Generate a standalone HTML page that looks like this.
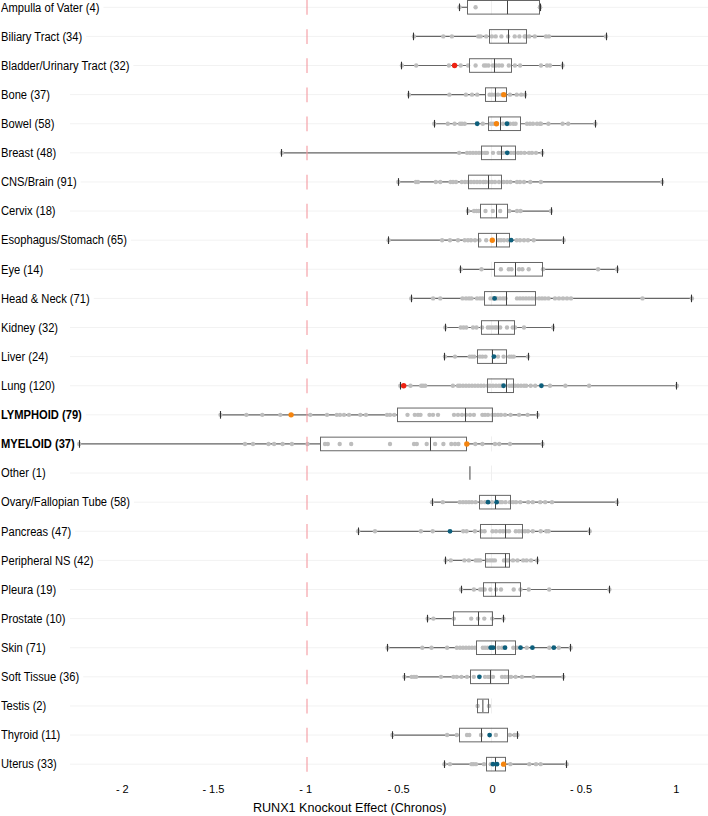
<!DOCTYPE html>
<html><head><meta charset="utf-8">
<style>
html,body{margin:0;padding:0;background:#fff;}
body{width:708px;height:816px;position:relative;overflow:hidden;font-family:"Liberation Sans",sans-serif;color:#000;}
svg{position:absolute;left:0;top:0;}
.lbl{position:absolute;left:1px;font-size:12px;line-height:15px;white-space:nowrap;transform:scaleX(0.93);transform-origin:0 0;}
.lbl.b{font-weight:bold;}
.tick{position:absolute;top:782px;width:80px;text-align:center;font-size:11px;line-height:15px;}
.title{position:absolute;top:800px;left:0;width:708px;text-align:center;font-size:12.6px;line-height:16px;}
</style></head><body>
<svg width="708" height="816" viewBox="0 0 708 816">
<line x1="103.4" y1="7.30" x2="708" y2="7.30" stroke="#f2f2f2" stroke-width="1"/>
<line x1="86.2" y1="36.41" x2="708" y2="36.41" stroke="#f2f2f2" stroke-width="1"/>
<line x1="133.4" y1="65.52" x2="708" y2="65.52" stroke="#f2f2f2" stroke-width="1"/>
<line x1="70.0" y1="94.63" x2="708" y2="94.63" stroke="#f2f2f2" stroke-width="1"/>
<line x1="70.0" y1="123.74" x2="708" y2="123.74" stroke="#f2f2f2" stroke-width="1"/>
<line x1="70.0" y1="152.85" x2="708" y2="152.85" stroke="#f2f2f2" stroke-width="1"/>
<line x1="80.7" y1="181.96" x2="708" y2="181.96" stroke="#f2f2f2" stroke-width="1"/>
<line x1="70.0" y1="211.07" x2="708" y2="211.07" stroke="#f2f2f2" stroke-width="1"/>
<line x1="130.9" y1="240.18" x2="708" y2="240.18" stroke="#f2f2f2" stroke-width="1"/>
<line x1="70.0" y1="269.29" x2="708" y2="269.29" stroke="#f2f2f2" stroke-width="1"/>
<line x1="93.7" y1="298.40" x2="708" y2="298.40" stroke="#f2f2f2" stroke-width="1"/>
<line x1="70.0" y1="327.51" x2="708" y2="327.51" stroke="#f2f2f2" stroke-width="1"/>
<line x1="70.0" y1="356.62" x2="708" y2="356.62" stroke="#f2f2f2" stroke-width="1"/>
<line x1="70.0" y1="385.73" x2="708" y2="385.73" stroke="#f2f2f2" stroke-width="1"/>
<line x1="85.8" y1="414.84" x2="708" y2="414.84" stroke="#f2f2f2" stroke-width="1"/>
<line x1="78.8" y1="443.95" x2="708" y2="443.95" stroke="#f2f2f2" stroke-width="1"/>
<line x1="70.0" y1="473.06" x2="708" y2="473.06" stroke="#f2f2f2" stroke-width="1"/>
<line x1="134.0" y1="502.17" x2="708" y2="502.17" stroke="#f2f2f2" stroke-width="1"/>
<line x1="75.1" y1="531.28" x2="708" y2="531.28" stroke="#f2f2f2" stroke-width="1"/>
<line x1="97.4" y1="560.39" x2="708" y2="560.39" stroke="#f2f2f2" stroke-width="1"/>
<line x1="70.0" y1="589.50" x2="708" y2="589.50" stroke="#f2f2f2" stroke-width="1"/>
<line x1="70.0" y1="618.61" x2="708" y2="618.61" stroke="#f2f2f2" stroke-width="1"/>
<line x1="70.0" y1="647.72" x2="708" y2="647.72" stroke="#f2f2f2" stroke-width="1"/>
<line x1="83.2" y1="676.83" x2="708" y2="676.83" stroke="#f2f2f2" stroke-width="1"/>
<line x1="70.0" y1="705.94" x2="708" y2="705.94" stroke="#f2f2f2" stroke-width="1"/>
<line x1="70.0" y1="735.05" x2="708" y2="735.05" stroke="#f2f2f2" stroke-width="1"/>
<line x1="70.0" y1="764.16" x2="708" y2="764.16" stroke="#f2f2f2" stroke-width="1"/>
<rect x="467.7" y="0.50" width="71.80" height="13.60" fill="#fff" stroke="none"/>
<line x1="491.5" y1="-0.20" x2="491.5" y2="14.80" stroke="#efefef" stroke-width="1"/>
<line x1="459.5" y1="7.30" x2="467.7" y2="7.30" stroke="#666" stroke-width="1.2"/>
<line x1="539.5" y1="7.30" x2="540.0" y2="7.30" stroke="#666" stroke-width="1.2"/>
<circle cx="459.5" cy="7.30" r="2.2" fill="#bdbdbd"/>
<circle cx="540.0" cy="7.30" r="2.2" fill="#bdbdbd"/>
<circle cx="475.6" cy="7.30" r="2.2" fill="#bdbdbd"/>
<circle cx="540.0" cy="7.30" r="2.2" fill="#bdbdbd"/>
<rect x="467.5" y="0.50" width="72.00" height="13.60" fill="none" stroke="#666" stroke-width="1"/>
<line x1="507.5" y1="0.50" x2="507.5" y2="14.10" stroke="#444" stroke-width="1"/>
<line x1="459.5" y1="3.50" x2="459.5" y2="11.10" stroke="#333" stroke-width="1.1"/>
<line x1="540.5" y1="3.50" x2="540.5" y2="11.10" stroke="#333" stroke-width="1.1"/>
<line x1="307" y1="0.10" x2="307" y2="14.80" stroke="#f59aa1" stroke-opacity="0.85" stroke-width="1.3"/>
<rect x="489.2" y="29.61" width="37.70" height="13.60" fill="#fff" stroke="none"/>
<line x1="491.5" y1="28.91" x2="491.5" y2="43.91" stroke="#efefef" stroke-width="1"/>
<line x1="413.9" y1="36.41" x2="489.2" y2="36.41" stroke="#666" stroke-width="1.2"/>
<line x1="526.9" y1="36.41" x2="606.0" y2="36.41" stroke="#666" stroke-width="1.2"/>
<circle cx="413.9" cy="36.41" r="2.2" fill="#bdbdbd"/>
<circle cx="606.0" cy="36.41" r="2.2" fill="#bdbdbd"/>
<circle cx="443.3" cy="36.41" r="2.2" fill="#bdbdbd"/>
<circle cx="451.9" cy="36.41" r="2.2" fill="#bdbdbd"/>
<circle cx="478.3" cy="36.41" r="2.2" fill="#bdbdbd"/>
<circle cx="480.6" cy="36.41" r="2.2" fill="#bdbdbd"/>
<circle cx="486.2" cy="36.41" r="2.2" fill="#bdbdbd"/>
<circle cx="491.9" cy="36.41" r="2.2" fill="#bdbdbd"/>
<circle cx="495.7" cy="36.41" r="2.2" fill="#bdbdbd"/>
<circle cx="501.4" cy="36.41" r="2.2" fill="#bdbdbd"/>
<circle cx="508.1" cy="36.41" r="2.2" fill="#bdbdbd"/>
<circle cx="514.7" cy="36.41" r="2.2" fill="#bdbdbd"/>
<circle cx="519.4" cy="36.41" r="2.2" fill="#bdbdbd"/>
<circle cx="524.6" cy="36.41" r="2.2" fill="#bdbdbd"/>
<circle cx="526" cy="36.41" r="2.2" fill="#bdbdbd"/>
<circle cx="529.2" cy="36.41" r="2.2" fill="#bdbdbd"/>
<circle cx="534.8" cy="36.41" r="2.2" fill="#bdbdbd"/>
<circle cx="546" cy="36.41" r="2.2" fill="#bdbdbd"/>
<circle cx="549" cy="36.41" r="2.2" fill="#bdbdbd"/>
<rect x="489.5" y="29.61" width="37.00" height="13.60" fill="none" stroke="#666" stroke-width="1"/>
<line x1="508.5" y1="29.61" x2="508.5" y2="43.21" stroke="#444" stroke-width="1"/>
<line x1="413.5" y1="32.61" x2="413.5" y2="40.21" stroke="#333" stroke-width="1.1"/>
<line x1="606.5" y1="32.61" x2="606.5" y2="40.21" stroke="#333" stroke-width="1.1"/>
<line x1="307" y1="29.21" x2="307" y2="43.91" stroke="#f59aa1" stroke-opacity="0.85" stroke-width="1.3"/>
<rect x="469.3" y="58.72" width="42.20" height="13.60" fill="#fff" stroke="none"/>
<line x1="491.5" y1="58.02" x2="491.5" y2="73.02" stroke="#efefef" stroke-width="1"/>
<line x1="401.9" y1="65.52" x2="469.3" y2="65.52" stroke="#666" stroke-width="1.2"/>
<line x1="511.5" y1="65.52" x2="562.6" y2="65.52" stroke="#666" stroke-width="1.2"/>
<circle cx="401.9" cy="65.52" r="2.2" fill="#bdbdbd"/>
<circle cx="562.6" cy="65.52" r="2.2" fill="#bdbdbd"/>
<circle cx="416.2" cy="65.52" r="2.2" fill="#bdbdbd"/>
<circle cx="448.9" cy="65.52" r="2.2" fill="#bdbdbd"/>
<circle cx="460.7" cy="65.52" r="2.2" fill="#bdbdbd"/>
<circle cx="468.1" cy="65.52" r="2.2" fill="#bdbdbd"/>
<circle cx="475.6" cy="65.52" r="2.2" fill="#bdbdbd"/>
<circle cx="484" cy="65.52" r="2.2" fill="#bdbdbd"/>
<circle cx="486" cy="65.52" r="2.2" fill="#bdbdbd"/>
<circle cx="488.5" cy="65.52" r="2.2" fill="#bdbdbd"/>
<circle cx="493" cy="65.52" r="2.2" fill="#bdbdbd"/>
<circle cx="496" cy="65.52" r="2.2" fill="#bdbdbd"/>
<circle cx="499" cy="65.52" r="2.2" fill="#bdbdbd"/>
<circle cx="502" cy="65.52" r="2.2" fill="#bdbdbd"/>
<circle cx="508.8" cy="65.52" r="2.2" fill="#bdbdbd"/>
<circle cx="514.9" cy="65.52" r="2.2" fill="#bdbdbd"/>
<circle cx="520.1" cy="65.52" r="2.2" fill="#bdbdbd"/>
<circle cx="541" cy="65.52" r="2.2" fill="#bdbdbd"/>
<circle cx="547" cy="65.52" r="2.2" fill="#bdbdbd"/>
<circle cx="550" cy="65.52" r="2.2" fill="#bdbdbd"/>
<rect x="469.5" y="58.72" width="42.00" height="13.60" fill="none" stroke="#666" stroke-width="1"/>
<line x1="494.5" y1="58.72" x2="494.5" y2="72.32" stroke="#444" stroke-width="1"/>
<line x1="401.5" y1="61.72" x2="401.5" y2="69.32" stroke="#333" stroke-width="1.1"/>
<line x1="562.5" y1="61.72" x2="562.5" y2="69.32" stroke="#333" stroke-width="1.1"/>
<line x1="307" y1="58.32" x2="307" y2="73.02" stroke="#f59aa1" stroke-opacity="0.85" stroke-width="1.3"/>
<circle cx="454.6" cy="65.52" r="2.7" fill="#ee2211"/>
<rect x="485.5" y="87.83" width="21.10" height="13.60" fill="#fff" stroke="none"/>
<line x1="491.5" y1="87.13" x2="491.5" y2="102.13" stroke="#efefef" stroke-width="1"/>
<line x1="408.9" y1="94.63" x2="485.5" y2="94.63" stroke="#666" stroke-width="1.2"/>
<line x1="506.6" y1="94.63" x2="525.1" y2="94.63" stroke="#666" stroke-width="1.2"/>
<circle cx="408.9" cy="94.63" r="2.2" fill="#bdbdbd"/>
<circle cx="525.1" cy="94.63" r="2.2" fill="#bdbdbd"/>
<circle cx="449.4" cy="94.63" r="2.2" fill="#bdbdbd"/>
<circle cx="465.9" cy="94.63" r="2.2" fill="#bdbdbd"/>
<circle cx="472" cy="94.63" r="2.2" fill="#bdbdbd"/>
<circle cx="477.2" cy="94.63" r="2.2" fill="#bdbdbd"/>
<circle cx="489.6" cy="94.63" r="2.2" fill="#bdbdbd"/>
<circle cx="492" cy="94.63" r="2.2" fill="#bdbdbd"/>
<circle cx="495" cy="94.63" r="2.2" fill="#bdbdbd"/>
<circle cx="498" cy="94.63" r="2.2" fill="#bdbdbd"/>
<circle cx="502" cy="94.63" r="2.2" fill="#bdbdbd"/>
<circle cx="510" cy="94.63" r="2.2" fill="#bdbdbd"/>
<circle cx="516.7" cy="94.63" r="2.2" fill="#bdbdbd"/>
<circle cx="521.2" cy="94.63" r="2.2" fill="#bdbdbd"/>
<rect x="485.5" y="87.83" width="21.00" height="13.60" fill="none" stroke="#666" stroke-width="1"/>
<line x1="495.5" y1="87.83" x2="495.5" y2="101.43" stroke="#444" stroke-width="1"/>
<line x1="408.5" y1="90.83" x2="408.5" y2="98.43" stroke="#333" stroke-width="1.1"/>
<line x1="525.5" y1="90.83" x2="525.5" y2="98.43" stroke="#333" stroke-width="1.1"/>
<line x1="307" y1="87.43" x2="307" y2="102.13" stroke="#f59aa1" stroke-opacity="0.85" stroke-width="1.3"/>
<circle cx="503.8" cy="94.63" r="2.7" fill="#f5850f"/>
<rect x="488.5" y="116.94" width="32.10" height="13.60" fill="#fff" stroke="none"/>
<line x1="491.5" y1="116.24" x2="491.5" y2="131.24" stroke="#efefef" stroke-width="1"/>
<line x1="434.2" y1="123.74" x2="488.5" y2="123.74" stroke="#666" stroke-width="1.2"/>
<line x1="520.6" y1="123.74" x2="595.4" y2="123.74" stroke="#666" stroke-width="1.2"/>
<circle cx="434.2" cy="123.74" r="2.2" fill="#bdbdbd"/>
<circle cx="595.4" cy="123.74" r="2.2" fill="#bdbdbd"/>
<circle cx="447.8" cy="123.74" r="2.2" fill="#bdbdbd"/>
<circle cx="454.6" cy="123.74" r="2.2" fill="#bdbdbd"/>
<circle cx="460" cy="123.74" r="2.2" fill="#bdbdbd"/>
<circle cx="462" cy="123.74" r="2.2" fill="#bdbdbd"/>
<circle cx="464.7" cy="123.74" r="2.2" fill="#bdbdbd"/>
<circle cx="482.8" cy="123.74" r="2.2" fill="#bdbdbd"/>
<circle cx="490.7" cy="123.74" r="2.2" fill="#bdbdbd"/>
<circle cx="493" cy="123.74" r="2.2" fill="#bdbdbd"/>
<circle cx="497" cy="123.74" r="2.2" fill="#bdbdbd"/>
<circle cx="503" cy="123.74" r="2.2" fill="#bdbdbd"/>
<circle cx="510" cy="123.74" r="2.2" fill="#bdbdbd"/>
<circle cx="513.3" cy="123.74" r="2.2" fill="#bdbdbd"/>
<circle cx="515.6" cy="123.74" r="2.2" fill="#bdbdbd"/>
<circle cx="527" cy="123.74" r="2.2" fill="#bdbdbd"/>
<circle cx="530" cy="123.74" r="2.2" fill="#bdbdbd"/>
<circle cx="533" cy="123.74" r="2.2" fill="#bdbdbd"/>
<circle cx="537" cy="123.74" r="2.2" fill="#bdbdbd"/>
<circle cx="540" cy="123.74" r="2.2" fill="#bdbdbd"/>
<circle cx="541" cy="123.74" r="2.2" fill="#bdbdbd"/>
<circle cx="548.4" cy="123.74" r="2.2" fill="#bdbdbd"/>
<circle cx="562.6" cy="123.74" r="2.2" fill="#bdbdbd"/>
<circle cx="568.2" cy="123.74" r="2.2" fill="#bdbdbd"/>
<rect x="488.5" y="116.94" width="32.00" height="13.60" fill="none" stroke="#666" stroke-width="1"/>
<line x1="500.5" y1="116.94" x2="500.5" y2="130.54" stroke="#444" stroke-width="1"/>
<line x1="434.5" y1="119.94" x2="434.5" y2="127.54" stroke="#333" stroke-width="1.1"/>
<line x1="595.5" y1="119.94" x2="595.5" y2="127.54" stroke="#333" stroke-width="1.1"/>
<line x1="307" y1="116.54" x2="307" y2="131.24" stroke="#f59aa1" stroke-opacity="0.85" stroke-width="1.3"/>
<circle cx="477.2" cy="123.74" r="2.4" fill="#0d5f7c"/>
<circle cx="507" cy="123.74" r="2.4" fill="#0d5f7c"/>
<circle cx="496.4" cy="123.74" r="2.7" fill="#f5850f"/>
<rect x="481.0" y="146.05" width="34.10" height="13.60" fill="#fff" stroke="none"/>
<line x1="491.5" y1="145.35" x2="491.5" y2="160.35" stroke="#efefef" stroke-width="1"/>
<line x1="281.9" y1="152.85" x2="481.0" y2="152.85" stroke="#666" stroke-width="1.2"/>
<line x1="515.1" y1="152.85" x2="542.3" y2="152.85" stroke="#666" stroke-width="1.2"/>
<circle cx="281.9" cy="152.85" r="2.2" fill="#bdbdbd"/>
<circle cx="542.3" cy="152.85" r="2.2" fill="#bdbdbd"/>
<circle cx="459.1" cy="152.85" r="2.2" fill="#bdbdbd"/>
<circle cx="467" cy="152.85" r="2.2" fill="#bdbdbd"/>
<circle cx="470" cy="152.85" r="2.2" fill="#bdbdbd"/>
<circle cx="473" cy="152.85" r="2.2" fill="#bdbdbd"/>
<circle cx="476" cy="152.85" r="2.2" fill="#bdbdbd"/>
<circle cx="479" cy="152.85" r="2.2" fill="#bdbdbd"/>
<circle cx="482" cy="152.85" r="2.2" fill="#bdbdbd"/>
<circle cx="485" cy="152.85" r="2.2" fill="#bdbdbd"/>
<circle cx="487" cy="152.85" r="2.2" fill="#bdbdbd"/>
<circle cx="493" cy="152.85" r="2.2" fill="#bdbdbd"/>
<circle cx="498.6" cy="152.85" r="2.2" fill="#bdbdbd"/>
<circle cx="501" cy="152.85" r="2.2" fill="#bdbdbd"/>
<circle cx="503.2" cy="152.85" r="2.2" fill="#bdbdbd"/>
<circle cx="511" cy="152.85" r="2.2" fill="#bdbdbd"/>
<circle cx="514" cy="152.85" r="2.2" fill="#bdbdbd"/>
<circle cx="518" cy="152.85" r="2.2" fill="#bdbdbd"/>
<circle cx="521" cy="152.85" r="2.2" fill="#bdbdbd"/>
<circle cx="524.6" cy="152.85" r="2.2" fill="#bdbdbd"/>
<circle cx="529" cy="152.85" r="2.2" fill="#bdbdbd"/>
<circle cx="532" cy="152.85" r="2.2" fill="#bdbdbd"/>
<circle cx="536" cy="152.85" r="2.2" fill="#bdbdbd"/>
<rect x="481.5" y="146.05" width="34.00" height="13.60" fill="none" stroke="#666" stroke-width="1"/>
<line x1="501.5" y1="146.05" x2="501.5" y2="159.65" stroke="#444" stroke-width="1"/>
<line x1="281.5" y1="149.05" x2="281.5" y2="156.65" stroke="#333" stroke-width="1.1"/>
<line x1="542.5" y1="149.05" x2="542.5" y2="156.65" stroke="#333" stroke-width="1.1"/>
<line x1="307" y1="145.65" x2="307" y2="160.35" stroke="#f59aa1" stroke-opacity="0.85" stroke-width="1.3"/>
<circle cx="507.2" cy="152.85" r="2.4" fill="#0d5f7c"/>
<rect x="468.6" y="175.16" width="32.80" height="13.60" fill="#fff" stroke="none"/>
<line x1="491.5" y1="174.46" x2="491.5" y2="189.46" stroke="#efefef" stroke-width="1"/>
<line x1="398.3" y1="181.96" x2="468.6" y2="181.96" stroke="#666" stroke-width="1.2"/>
<line x1="501.4" y1="181.96" x2="662.2" y2="181.96" stroke="#666" stroke-width="1.2"/>
<circle cx="398.3" cy="181.96" r="2.2" fill="#bdbdbd"/>
<circle cx="662.2" cy="181.96" r="2.2" fill="#bdbdbd"/>
<circle cx="415.9" cy="181.96" r="2.2" fill="#bdbdbd"/>
<circle cx="418" cy="181.96" r="2.2" fill="#bdbdbd"/>
<circle cx="435.8" cy="181.96" r="2.2" fill="#bdbdbd"/>
<circle cx="440.3" cy="181.96" r="2.2" fill="#bdbdbd"/>
<circle cx="450.5" cy="181.96" r="2.2" fill="#bdbdbd"/>
<circle cx="453" cy="181.96" r="2.2" fill="#bdbdbd"/>
<circle cx="456" cy="181.96" r="2.2" fill="#bdbdbd"/>
<circle cx="461.8" cy="181.96" r="2.2" fill="#bdbdbd"/>
<circle cx="465" cy="181.96" r="2.2" fill="#bdbdbd"/>
<circle cx="468" cy="181.96" r="2.2" fill="#bdbdbd"/>
<circle cx="471" cy="181.96" r="2.2" fill="#bdbdbd"/>
<circle cx="474" cy="181.96" r="2.2" fill="#bdbdbd"/>
<circle cx="477" cy="181.96" r="2.2" fill="#bdbdbd"/>
<circle cx="480" cy="181.96" r="2.2" fill="#bdbdbd"/>
<circle cx="483.3" cy="181.96" r="2.2" fill="#bdbdbd"/>
<circle cx="485.5" cy="181.96" r="2.2" fill="#bdbdbd"/>
<circle cx="489" cy="181.96" r="2.2" fill="#bdbdbd"/>
<circle cx="492" cy="181.96" r="2.2" fill="#bdbdbd"/>
<circle cx="495" cy="181.96" r="2.2" fill="#bdbdbd"/>
<circle cx="499" cy="181.96" r="2.2" fill="#bdbdbd"/>
<circle cx="503.6" cy="181.96" r="2.2" fill="#bdbdbd"/>
<circle cx="507" cy="181.96" r="2.2" fill="#bdbdbd"/>
<circle cx="510.4" cy="181.96" r="2.2" fill="#bdbdbd"/>
<circle cx="517" cy="181.96" r="2.2" fill="#bdbdbd"/>
<circle cx="520" cy="181.96" r="2.2" fill="#bdbdbd"/>
<circle cx="524" cy="181.96" r="2.2" fill="#bdbdbd"/>
<circle cx="530.3" cy="181.96" r="2.2" fill="#bdbdbd"/>
<circle cx="540.9" cy="181.96" r="2.2" fill="#bdbdbd"/>
<rect x="468.5" y="175.16" width="33.00" height="13.60" fill="none" stroke="#666" stroke-width="1"/>
<line x1="488.5" y1="175.16" x2="488.5" y2="188.76" stroke="#444" stroke-width="1"/>
<line x1="398.5" y1="178.16" x2="398.5" y2="185.76" stroke="#333" stroke-width="1.1"/>
<line x1="662.5" y1="178.16" x2="662.5" y2="185.76" stroke="#333" stroke-width="1.1"/>
<line x1="307" y1="174.76" x2="307" y2="189.46" stroke="#f59aa1" stroke-opacity="0.85" stroke-width="1.3"/>
<rect x="480.3" y="204.27" width="27.40" height="13.60" fill="#fff" stroke="none"/>
<line x1="491.5" y1="203.57" x2="491.5" y2="218.57" stroke="#efefef" stroke-width="1"/>
<line x1="467.9" y1="211.07" x2="480.3" y2="211.07" stroke="#666" stroke-width="1.2"/>
<line x1="507.7" y1="211.07" x2="551.0" y2="211.07" stroke="#666" stroke-width="1.2"/>
<circle cx="467.9" cy="211.07" r="2.2" fill="#bdbdbd"/>
<circle cx="551.0" cy="211.07" r="2.2" fill="#bdbdbd"/>
<circle cx="474" cy="211.07" r="2.2" fill="#bdbdbd"/>
<circle cx="476.5" cy="211.07" r="2.2" fill="#bdbdbd"/>
<circle cx="478.8" cy="211.07" r="2.2" fill="#bdbdbd"/>
<circle cx="485.5" cy="211.07" r="2.2" fill="#bdbdbd"/>
<circle cx="492.8" cy="211.07" r="2.2" fill="#bdbdbd"/>
<circle cx="500.2" cy="211.07" r="2.2" fill="#bdbdbd"/>
<circle cx="509.3" cy="211.07" r="2.2" fill="#bdbdbd"/>
<circle cx="517" cy="211.07" r="2.2" fill="#bdbdbd"/>
<circle cx="520.6" cy="211.07" r="2.2" fill="#bdbdbd"/>
<rect x="480.5" y="204.27" width="27.00" height="13.60" fill="none" stroke="#666" stroke-width="1"/>
<line x1="496.5" y1="204.27" x2="496.5" y2="217.87" stroke="#444" stroke-width="1"/>
<line x1="467.5" y1="207.27" x2="467.5" y2="214.87" stroke="#333" stroke-width="1.1"/>
<line x1="551.5" y1="207.27" x2="551.5" y2="214.87" stroke="#333" stroke-width="1.1"/>
<line x1="307" y1="203.87" x2="307" y2="218.57" stroke="#f59aa1" stroke-opacity="0.85" stroke-width="1.3"/>
<rect x="478.3" y="233.38" width="31.20" height="13.60" fill="#fff" stroke="none"/>
<line x1="491.5" y1="232.68" x2="491.5" y2="247.68" stroke="#efefef" stroke-width="1"/>
<line x1="388.6" y1="240.18" x2="478.3" y2="240.18" stroke="#666" stroke-width="1.2"/>
<line x1="509.5" y1="240.18" x2="563.7" y2="240.18" stroke="#666" stroke-width="1.2"/>
<circle cx="388.6" cy="240.18" r="2.2" fill="#bdbdbd"/>
<circle cx="563.7" cy="240.18" r="2.2" fill="#bdbdbd"/>
<circle cx="442.1" cy="240.18" r="2.2" fill="#bdbdbd"/>
<circle cx="450" cy="240.18" r="2.2" fill="#bdbdbd"/>
<circle cx="458" cy="240.18" r="2.2" fill="#bdbdbd"/>
<circle cx="464.7" cy="240.18" r="2.2" fill="#bdbdbd"/>
<circle cx="468" cy="240.18" r="2.2" fill="#bdbdbd"/>
<circle cx="471" cy="240.18" r="2.2" fill="#bdbdbd"/>
<circle cx="475" cy="240.18" r="2.2" fill="#bdbdbd"/>
<circle cx="479.4" cy="240.18" r="2.2" fill="#bdbdbd"/>
<circle cx="486.2" cy="240.18" r="2.2" fill="#bdbdbd"/>
<circle cx="498.6" cy="240.18" r="2.2" fill="#bdbdbd"/>
<circle cx="501" cy="240.18" r="2.2" fill="#bdbdbd"/>
<circle cx="504" cy="240.18" r="2.2" fill="#bdbdbd"/>
<circle cx="507.7" cy="240.18" r="2.2" fill="#bdbdbd"/>
<circle cx="516.7" cy="240.18" r="2.2" fill="#bdbdbd"/>
<circle cx="520" cy="240.18" r="2.2" fill="#bdbdbd"/>
<circle cx="524" cy="240.18" r="2.2" fill="#bdbdbd"/>
<circle cx="528" cy="240.18" r="2.2" fill="#bdbdbd"/>
<circle cx="533.7" cy="240.18" r="2.2" fill="#bdbdbd"/>
<rect x="478.5" y="233.38" width="31.00" height="13.60" fill="none" stroke="#666" stroke-width="1"/>
<line x1="496.5" y1="233.38" x2="496.5" y2="246.98" stroke="#444" stroke-width="1"/>
<line x1="388.5" y1="236.38" x2="388.5" y2="243.98" stroke="#333" stroke-width="1.1"/>
<line x1="563.5" y1="236.38" x2="563.5" y2="243.98" stroke="#333" stroke-width="1.1"/>
<line x1="307" y1="232.98" x2="307" y2="247.68" stroke="#f59aa1" stroke-opacity="0.85" stroke-width="1.3"/>
<circle cx="511.1" cy="240.18" r="2.4" fill="#0d5f7c"/>
<circle cx="492.3" cy="240.18" r="2.7" fill="#f5850f"/>
<rect x="494.7" y="262.49" width="48.00" height="13.60" fill="#fff" stroke="none"/>
<line x1="491.5" y1="261.79" x2="491.5" y2="276.79" stroke="#efefef" stroke-width="1"/>
<line x1="460.8" y1="269.29" x2="494.7" y2="269.29" stroke="#666" stroke-width="1.2"/>
<line x1="542.7" y1="269.29" x2="617.1" y2="269.29" stroke="#666" stroke-width="1.2"/>
<circle cx="460.8" cy="269.29" r="2.2" fill="#bdbdbd"/>
<circle cx="617.1" cy="269.29" r="2.2" fill="#bdbdbd"/>
<circle cx="481.5" cy="269.29" r="2.2" fill="#bdbdbd"/>
<circle cx="500.9" cy="269.29" r="2.2" fill="#bdbdbd"/>
<circle cx="508.8" cy="269.29" r="2.2" fill="#bdbdbd"/>
<circle cx="511.5" cy="269.29" r="2.2" fill="#bdbdbd"/>
<circle cx="519" cy="269.29" r="2.2" fill="#bdbdbd"/>
<circle cx="522.4" cy="269.29" r="2.2" fill="#bdbdbd"/>
<circle cx="528.7" cy="269.29" r="2.2" fill="#bdbdbd"/>
<circle cx="543" cy="269.29" r="2.2" fill="#bdbdbd"/>
<circle cx="598.1" cy="269.29" r="2.2" fill="#bdbdbd"/>
<rect x="494.5" y="262.49" width="48.00" height="13.60" fill="none" stroke="#666" stroke-width="1"/>
<line x1="515.5" y1="262.49" x2="515.5" y2="276.09" stroke="#444" stroke-width="1"/>
<line x1="460.5" y1="265.49" x2="460.5" y2="273.09" stroke="#333" stroke-width="1.1"/>
<line x1="617.5" y1="265.49" x2="617.5" y2="273.09" stroke="#333" stroke-width="1.1"/>
<line x1="307" y1="262.09" x2="307" y2="276.79" stroke="#f59aa1" stroke-opacity="0.85" stroke-width="1.3"/>
<rect x="484.4" y="291.60" width="51.10" height="13.60" fill="#fff" stroke="none"/>
<line x1="491.5" y1="290.90" x2="491.5" y2="305.90" stroke="#efefef" stroke-width="1"/>
<line x1="411.2" y1="298.40" x2="484.4" y2="298.40" stroke="#666" stroke-width="1.2"/>
<line x1="535.5" y1="298.40" x2="691.9" y2="298.40" stroke="#666" stroke-width="1.2"/>
<circle cx="411.2" cy="298.40" r="2.2" fill="#bdbdbd"/>
<circle cx="691.9" cy="298.40" r="2.2" fill="#bdbdbd"/>
<circle cx="433.1" cy="298.40" r="2.2" fill="#bdbdbd"/>
<circle cx="440.3" cy="298.40" r="2.2" fill="#bdbdbd"/>
<circle cx="462.5" cy="298.40" r="2.2" fill="#bdbdbd"/>
<circle cx="466" cy="298.40" r="2.2" fill="#bdbdbd"/>
<circle cx="469" cy="298.40" r="2.2" fill="#bdbdbd"/>
<circle cx="471.5" cy="298.40" r="2.2" fill="#bdbdbd"/>
<circle cx="477" cy="298.40" r="2.2" fill="#bdbdbd"/>
<circle cx="480" cy="298.40" r="2.2" fill="#bdbdbd"/>
<circle cx="482.5" cy="298.40" r="2.2" fill="#bdbdbd"/>
<circle cx="490.5" cy="298.40" r="2.2" fill="#bdbdbd"/>
<circle cx="493" cy="298.40" r="2.2" fill="#bdbdbd"/>
<circle cx="497" cy="298.40" r="2.2" fill="#bdbdbd"/>
<circle cx="500" cy="298.40" r="2.2" fill="#bdbdbd"/>
<circle cx="503" cy="298.40" r="2.2" fill="#bdbdbd"/>
<circle cx="505.5" cy="298.40" r="2.2" fill="#bdbdbd"/>
<circle cx="517" cy="298.40" r="2.2" fill="#bdbdbd"/>
<circle cx="520" cy="298.40" r="2.2" fill="#bdbdbd"/>
<circle cx="523" cy="298.40" r="2.2" fill="#bdbdbd"/>
<circle cx="526" cy="298.40" r="2.2" fill="#bdbdbd"/>
<circle cx="529" cy="298.40" r="2.2" fill="#bdbdbd"/>
<circle cx="532" cy="298.40" r="2.2" fill="#bdbdbd"/>
<circle cx="535" cy="298.40" r="2.2" fill="#bdbdbd"/>
<circle cx="539" cy="298.40" r="2.2" fill="#bdbdbd"/>
<circle cx="542" cy="298.40" r="2.2" fill="#bdbdbd"/>
<circle cx="545" cy="298.40" r="2.2" fill="#bdbdbd"/>
<circle cx="548.5" cy="298.40" r="2.2" fill="#bdbdbd"/>
<circle cx="555" cy="298.40" r="2.2" fill="#bdbdbd"/>
<circle cx="559" cy="298.40" r="2.2" fill="#bdbdbd"/>
<circle cx="563" cy="298.40" r="2.2" fill="#bdbdbd"/>
<circle cx="567" cy="298.40" r="2.2" fill="#bdbdbd"/>
<circle cx="571" cy="298.40" r="2.2" fill="#bdbdbd"/>
<circle cx="642.5" cy="298.40" r="2.2" fill="#bdbdbd"/>
<rect x="484.5" y="291.60" width="51.00" height="13.60" fill="none" stroke="#666" stroke-width="1"/>
<line x1="506.5" y1="291.60" x2="506.5" y2="305.20" stroke="#444" stroke-width="1"/>
<line x1="411.5" y1="294.60" x2="411.5" y2="302.20" stroke="#333" stroke-width="1.1"/>
<line x1="691.5" y1="294.60" x2="691.5" y2="302.20" stroke="#333" stroke-width="1.1"/>
<line x1="307" y1="291.20" x2="307" y2="305.90" stroke="#f59aa1" stroke-opacity="0.85" stroke-width="1.3"/>
<circle cx="494.6" cy="298.40" r="2.4" fill="#0d5f7c"/>
<rect x="481.5" y="320.71" width="33.00" height="13.60" fill="#fff" stroke="none"/>
<line x1="491.5" y1="320.01" x2="491.5" y2="335.01" stroke="#efefef" stroke-width="1"/>
<line x1="445.3" y1="327.51" x2="481.5" y2="327.51" stroke="#666" stroke-width="1.2"/>
<line x1="514.5" y1="327.51" x2="553.0" y2="327.51" stroke="#666" stroke-width="1.2"/>
<circle cx="445.3" cy="327.51" r="2.2" fill="#bdbdbd"/>
<circle cx="553.0" cy="327.51" r="2.2" fill="#bdbdbd"/>
<circle cx="460.7" cy="327.51" r="2.2" fill="#bdbdbd"/>
<circle cx="463.5" cy="327.51" r="2.2" fill="#bdbdbd"/>
<circle cx="466.3" cy="327.51" r="2.2" fill="#bdbdbd"/>
<circle cx="473" cy="327.51" r="2.2" fill="#bdbdbd"/>
<circle cx="476.5" cy="327.51" r="2.2" fill="#bdbdbd"/>
<circle cx="482.1" cy="327.51" r="2.2" fill="#bdbdbd"/>
<circle cx="487.8" cy="327.51" r="2.2" fill="#bdbdbd"/>
<circle cx="490" cy="327.51" r="2.2" fill="#bdbdbd"/>
<circle cx="492.5" cy="327.51" r="2.2" fill="#bdbdbd"/>
<circle cx="495" cy="327.51" r="2.2" fill="#bdbdbd"/>
<circle cx="496.8" cy="327.51" r="2.2" fill="#bdbdbd"/>
<circle cx="500.2" cy="327.51" r="2.2" fill="#bdbdbd"/>
<circle cx="507" cy="327.51" r="2.2" fill="#bdbdbd"/>
<circle cx="512.7" cy="327.51" r="2.2" fill="#bdbdbd"/>
<circle cx="515" cy="327.51" r="2.2" fill="#bdbdbd"/>
<circle cx="524" cy="327.51" r="2.2" fill="#bdbdbd"/>
<rect x="481.5" y="320.71" width="33.00" height="13.60" fill="none" stroke="#666" stroke-width="1"/>
<line x1="498.5" y1="320.71" x2="498.5" y2="334.31" stroke="#444" stroke-width="1"/>
<line x1="445.5" y1="323.71" x2="445.5" y2="331.31" stroke="#333" stroke-width="1.1"/>
<line x1="553.5" y1="323.71" x2="553.5" y2="331.31" stroke="#333" stroke-width="1.1"/>
<line x1="307" y1="320.31" x2="307" y2="335.01" stroke="#f59aa1" stroke-opacity="0.85" stroke-width="1.3"/>
<rect x="477.6" y="349.82" width="29.00" height="13.60" fill="#fff" stroke="none"/>
<line x1="491.5" y1="349.12" x2="491.5" y2="364.12" stroke="#efefef" stroke-width="1"/>
<line x1="444.9" y1="356.62" x2="477.6" y2="356.62" stroke="#666" stroke-width="1.2"/>
<line x1="506.6" y1="356.62" x2="528.0" y2="356.62" stroke="#666" stroke-width="1.2"/>
<circle cx="444.9" cy="356.62" r="2.2" fill="#bdbdbd"/>
<circle cx="528.0" cy="356.62" r="2.2" fill="#bdbdbd"/>
<circle cx="455" cy="356.62" r="2.2" fill="#bdbdbd"/>
<circle cx="469.7" cy="356.62" r="2.2" fill="#bdbdbd"/>
<circle cx="472" cy="356.62" r="2.2" fill="#bdbdbd"/>
<circle cx="474.2" cy="356.62" r="2.2" fill="#bdbdbd"/>
<circle cx="479.9" cy="356.62" r="2.2" fill="#bdbdbd"/>
<circle cx="482.5" cy="356.62" r="2.2" fill="#bdbdbd"/>
<circle cx="485.5" cy="356.62" r="2.2" fill="#bdbdbd"/>
<circle cx="498" cy="356.62" r="2.2" fill="#bdbdbd"/>
<circle cx="503.6" cy="356.62" r="2.2" fill="#bdbdbd"/>
<circle cx="509.3" cy="356.62" r="2.2" fill="#bdbdbd"/>
<circle cx="511.5" cy="356.62" r="2.2" fill="#bdbdbd"/>
<circle cx="513.8" cy="356.62" r="2.2" fill="#bdbdbd"/>
<rect x="477.5" y="349.82" width="29.00" height="13.60" fill="none" stroke="#666" stroke-width="1"/>
<line x1="492.5" y1="349.82" x2="492.5" y2="363.42" stroke="#444" stroke-width="1"/>
<line x1="444.5" y1="352.82" x2="444.5" y2="360.42" stroke="#333" stroke-width="1.1"/>
<line x1="528.5" y1="352.82" x2="528.5" y2="360.42" stroke="#333" stroke-width="1.1"/>
<line x1="307" y1="349.42" x2="307" y2="364.12" stroke="#f59aa1" stroke-opacity="0.85" stroke-width="1.3"/>
<circle cx="493.9" cy="356.62" r="2.4" fill="#0d5f7c"/>
<rect x="487.3" y="378.93" width="26.50" height="13.60" fill="#fff" stroke="none"/>
<line x1="491.5" y1="378.23" x2="491.5" y2="393.23" stroke="#efefef" stroke-width="1"/>
<line x1="400.3" y1="385.73" x2="487.3" y2="385.73" stroke="#666" stroke-width="1.2"/>
<line x1="513.8" y1="385.73" x2="676.9" y2="385.73" stroke="#666" stroke-width="1.2"/>
<circle cx="400.3" cy="385.73" r="2.2" fill="#bdbdbd"/>
<circle cx="676.9" cy="385.73" r="2.2" fill="#bdbdbd"/>
<circle cx="410.5" cy="385.73" r="2.2" fill="#bdbdbd"/>
<circle cx="421.2" cy="385.73" r="2.2" fill="#bdbdbd"/>
<circle cx="423" cy="385.73" r="2.2" fill="#bdbdbd"/>
<circle cx="425.2" cy="385.73" r="2.2" fill="#bdbdbd"/>
<circle cx="452.9" cy="385.73" r="2.2" fill="#bdbdbd"/>
<circle cx="458" cy="385.73" r="2.2" fill="#bdbdbd"/>
<circle cx="460" cy="385.73" r="2.2" fill="#bdbdbd"/>
<circle cx="463" cy="385.73" r="2.2" fill="#bdbdbd"/>
<circle cx="466" cy="385.73" r="2.2" fill="#bdbdbd"/>
<circle cx="469" cy="385.73" r="2.2" fill="#bdbdbd"/>
<circle cx="472" cy="385.73" r="2.2" fill="#bdbdbd"/>
<circle cx="475" cy="385.73" r="2.2" fill="#bdbdbd"/>
<circle cx="478" cy="385.73" r="2.2" fill="#bdbdbd"/>
<circle cx="481" cy="385.73" r="2.2" fill="#bdbdbd"/>
<circle cx="484" cy="385.73" r="2.2" fill="#bdbdbd"/>
<circle cx="487.8" cy="385.73" r="2.2" fill="#bdbdbd"/>
<circle cx="490" cy="385.73" r="2.2" fill="#bdbdbd"/>
<circle cx="493" cy="385.73" r="2.2" fill="#bdbdbd"/>
<circle cx="496" cy="385.73" r="2.2" fill="#bdbdbd"/>
<circle cx="499" cy="385.73" r="2.2" fill="#bdbdbd"/>
<circle cx="501.4" cy="385.73" r="2.2" fill="#bdbdbd"/>
<circle cx="509.3" cy="385.73" r="2.2" fill="#bdbdbd"/>
<circle cx="512" cy="385.73" r="2.2" fill="#bdbdbd"/>
<circle cx="515" cy="385.73" r="2.2" fill="#bdbdbd"/>
<circle cx="518" cy="385.73" r="2.2" fill="#bdbdbd"/>
<circle cx="521" cy="385.73" r="2.2" fill="#bdbdbd"/>
<circle cx="524" cy="385.73" r="2.2" fill="#bdbdbd"/>
<circle cx="526.2" cy="385.73" r="2.2" fill="#bdbdbd"/>
<circle cx="530.7" cy="385.73" r="2.2" fill="#bdbdbd"/>
<circle cx="535.2" cy="385.73" r="2.2" fill="#bdbdbd"/>
<circle cx="550" cy="385.73" r="2.2" fill="#bdbdbd"/>
<circle cx="565.4" cy="385.73" r="2.2" fill="#bdbdbd"/>
<circle cx="589.1" cy="385.73" r="2.2" fill="#bdbdbd"/>
<rect x="487.5" y="378.93" width="26.00" height="13.60" fill="none" stroke="#666" stroke-width="1"/>
<line x1="506.5" y1="378.93" x2="506.5" y2="392.53" stroke="#444" stroke-width="1"/>
<line x1="400.5" y1="381.93" x2="400.5" y2="389.53" stroke="#333" stroke-width="1.1"/>
<line x1="676.5" y1="381.93" x2="676.5" y2="389.53" stroke="#333" stroke-width="1.1"/>
<line x1="307" y1="378.53" x2="307" y2="393.23" stroke="#f59aa1" stroke-opacity="0.85" stroke-width="1.3"/>
<circle cx="503.6" cy="385.73" r="2.4" fill="#0d5f7c"/>
<circle cx="541.4" cy="385.73" r="2.4" fill="#0d5f7c"/>
<circle cx="403.7" cy="385.73" r="2.7" fill="#ee2211"/>
<rect x="397.0" y="408.04" width="95.30" height="13.60" fill="#fff" stroke="none"/>
<line x1="491.5" y1="407.34" x2="491.5" y2="422.34" stroke="#efefef" stroke-width="1"/>
<line x1="220.5" y1="414.84" x2="397.0" y2="414.84" stroke="#666" stroke-width="1.2"/>
<line x1="492.3" y1="414.84" x2="537.7" y2="414.84" stroke="#666" stroke-width="1.2"/>
<circle cx="220.5" cy="414.84" r="2.2" fill="#bdbdbd"/>
<circle cx="537.7" cy="414.84" r="2.2" fill="#bdbdbd"/>
<circle cx="246.4" cy="414.84" r="2.2" fill="#bdbdbd"/>
<circle cx="262.3" cy="414.84" r="2.2" fill="#bdbdbd"/>
<circle cx="280.3" cy="414.84" r="2.2" fill="#bdbdbd"/>
<circle cx="310.3" cy="414.84" r="2.2" fill="#bdbdbd"/>
<circle cx="327" cy="414.84" r="2.2" fill="#bdbdbd"/>
<circle cx="336.8" cy="414.84" r="2.2" fill="#bdbdbd"/>
<circle cx="340" cy="414.84" r="2.2" fill="#bdbdbd"/>
<circle cx="344" cy="414.84" r="2.2" fill="#bdbdbd"/>
<circle cx="349" cy="414.84" r="2.2" fill="#bdbdbd"/>
<circle cx="360.3" cy="414.84" r="2.2" fill="#bdbdbd"/>
<circle cx="366" cy="414.84" r="2.2" fill="#bdbdbd"/>
<circle cx="387" cy="414.84" r="2.2" fill="#bdbdbd"/>
<circle cx="390" cy="414.84" r="2.2" fill="#bdbdbd"/>
<circle cx="394.2" cy="414.84" r="2.2" fill="#bdbdbd"/>
<circle cx="407.5" cy="414.84" r="2.2" fill="#bdbdbd"/>
<circle cx="414.8" cy="414.84" r="2.2" fill="#bdbdbd"/>
<circle cx="418" cy="414.84" r="2.2" fill="#bdbdbd"/>
<circle cx="420.5" cy="414.84" r="2.2" fill="#bdbdbd"/>
<circle cx="429.5" cy="414.84" r="2.2" fill="#bdbdbd"/>
<circle cx="433" cy="414.84" r="2.2" fill="#bdbdbd"/>
<circle cx="438" cy="414.84" r="2.2" fill="#bdbdbd"/>
<circle cx="454" cy="414.84" r="2.2" fill="#bdbdbd"/>
<circle cx="458" cy="414.84" r="2.2" fill="#bdbdbd"/>
<circle cx="462" cy="414.84" r="2.2" fill="#bdbdbd"/>
<circle cx="466" cy="414.84" r="2.2" fill="#bdbdbd"/>
<circle cx="470" cy="414.84" r="2.2" fill="#bdbdbd"/>
<circle cx="473.9" cy="414.84" r="2.2" fill="#bdbdbd"/>
<circle cx="482.4" cy="414.84" r="2.2" fill="#bdbdbd"/>
<circle cx="485" cy="414.84" r="2.2" fill="#bdbdbd"/>
<circle cx="488" cy="414.84" r="2.2" fill="#bdbdbd"/>
<circle cx="492.3" cy="414.84" r="2.2" fill="#bdbdbd"/>
<circle cx="495" cy="414.84" r="2.2" fill="#bdbdbd"/>
<circle cx="498" cy="414.84" r="2.2" fill="#bdbdbd"/>
<circle cx="501" cy="414.84" r="2.2" fill="#bdbdbd"/>
<circle cx="505" cy="414.84" r="2.2" fill="#bdbdbd"/>
<circle cx="510.6" cy="414.84" r="2.2" fill="#bdbdbd"/>
<circle cx="519.1" cy="414.84" r="2.2" fill="#bdbdbd"/>
<circle cx="527.6" cy="414.84" r="2.2" fill="#bdbdbd"/>
<rect x="397.5" y="408.04" width="95.00" height="13.60" fill="none" stroke="#666" stroke-width="1"/>
<line x1="465.5" y1="408.04" x2="465.5" y2="421.64" stroke="#444" stroke-width="1"/>
<line x1="220.5" y1="411.04" x2="220.5" y2="418.64" stroke="#333" stroke-width="1.1"/>
<line x1="537.5" y1="411.04" x2="537.5" y2="418.64" stroke="#333" stroke-width="1.1"/>
<line x1="307" y1="407.64" x2="307" y2="422.34" stroke="#f59aa1" stroke-opacity="0.85" stroke-width="1.3"/>
<circle cx="291.1" cy="414.84" r="2.7" fill="#f5850f"/>
<rect x="320.2" y="437.15" width="146.60" height="13.60" fill="#fff" stroke="none"/>
<line x1="491.5" y1="436.45" x2="491.5" y2="451.45" stroke="#efefef" stroke-width="1"/>
<line x1="79.2" y1="443.95" x2="320.2" y2="443.95" stroke="#666" stroke-width="1.2"/>
<line x1="466.8" y1="443.95" x2="542.5" y2="443.95" stroke="#666" stroke-width="1.2"/>
<circle cx="79.2" cy="443.95" r="2.2" fill="#bdbdbd"/>
<circle cx="542.5" cy="443.95" r="2.2" fill="#bdbdbd"/>
<circle cx="245" cy="443.95" r="2.2" fill="#bdbdbd"/>
<circle cx="253" cy="443.95" r="2.2" fill="#bdbdbd"/>
<circle cx="268.5" cy="443.95" r="2.2" fill="#bdbdbd"/>
<circle cx="274.1" cy="443.95" r="2.2" fill="#bdbdbd"/>
<circle cx="282.6" cy="443.95" r="2.2" fill="#bdbdbd"/>
<circle cx="291.9" cy="443.95" r="2.2" fill="#bdbdbd"/>
<circle cx="307.5" cy="443.95" r="2.2" fill="#bdbdbd"/>
<circle cx="325" cy="443.95" r="2.2" fill="#bdbdbd"/>
<circle cx="327.8" cy="443.95" r="2.2" fill="#bdbdbd"/>
<circle cx="339.7" cy="443.95" r="2.2" fill="#bdbdbd"/>
<circle cx="351.2" cy="443.95" r="2.2" fill="#bdbdbd"/>
<circle cx="390" cy="443.95" r="2.2" fill="#bdbdbd"/>
<circle cx="414" cy="443.95" r="2.2" fill="#bdbdbd"/>
<circle cx="416.8" cy="443.95" r="2.2" fill="#bdbdbd"/>
<circle cx="426.7" cy="443.95" r="2.2" fill="#bdbdbd"/>
<circle cx="435.1" cy="443.95" r="2.2" fill="#bdbdbd"/>
<circle cx="443.4" cy="443.95" r="2.2" fill="#bdbdbd"/>
<circle cx="451.3" cy="443.95" r="2.2" fill="#bdbdbd"/>
<circle cx="455" cy="443.95" r="2.2" fill="#bdbdbd"/>
<circle cx="458.4" cy="443.95" r="2.2" fill="#bdbdbd"/>
<circle cx="475.3" cy="443.95" r="2.2" fill="#bdbdbd"/>
<circle cx="482.4" cy="443.95" r="2.2" fill="#bdbdbd"/>
<circle cx="495" cy="443.95" r="2.2" fill="#bdbdbd"/>
<circle cx="499.3" cy="443.95" r="2.2" fill="#bdbdbd"/>
<circle cx="510" cy="443.95" r="2.2" fill="#bdbdbd"/>
<rect x="320.5" y="437.15" width="146.00" height="13.60" fill="none" stroke="#666" stroke-width="1"/>
<line x1="430.5" y1="437.15" x2="430.5" y2="450.75" stroke="#444" stroke-width="1"/>
<line x1="79.5" y1="440.15" x2="79.5" y2="447.75" stroke="#333" stroke-width="1.1"/>
<line x1="542.5" y1="440.15" x2="542.5" y2="447.75" stroke="#333" stroke-width="1.1"/>
<line x1="307" y1="436.75" x2="307" y2="451.45" stroke="#f59aa1" stroke-opacity="0.85" stroke-width="1.3"/>
<circle cx="466.8" cy="443.95" r="2.7" fill="#f5850f"/>
<line x1="491.5" y1="465.56" x2="491.5" y2="480.56" stroke="#efefef" stroke-width="1"/>
<line x1="469.9" y1="466.26" x2="469.9" y2="479.86" stroke="#888" stroke-width="1.6"/>
<line x1="307" y1="465.86" x2="307" y2="480.56" stroke="#f59aa1" stroke-opacity="0.85" stroke-width="1.3"/>
<rect x="479.4" y="495.37" width="30.80" height="13.60" fill="#fff" stroke="none"/>
<line x1="491.5" y1="494.67" x2="491.5" y2="509.67" stroke="#efefef" stroke-width="1"/>
<line x1="432.0" y1="502.17" x2="479.4" y2="502.17" stroke="#666" stroke-width="1.2"/>
<line x1="510.2" y1="502.17" x2="617.1" y2="502.17" stroke="#666" stroke-width="1.2"/>
<circle cx="432.0" cy="502.17" r="2.2" fill="#bdbdbd"/>
<circle cx="617.1" cy="502.17" r="2.2" fill="#bdbdbd"/>
<circle cx="442.8" cy="502.17" r="2.2" fill="#bdbdbd"/>
<circle cx="459.8" cy="502.17" r="2.2" fill="#bdbdbd"/>
<circle cx="463" cy="502.17" r="2.2" fill="#bdbdbd"/>
<circle cx="466" cy="502.17" r="2.2" fill="#bdbdbd"/>
<circle cx="469" cy="502.17" r="2.2" fill="#bdbdbd"/>
<circle cx="472" cy="502.17" r="2.2" fill="#bdbdbd"/>
<circle cx="475.6" cy="502.17" r="2.2" fill="#bdbdbd"/>
<circle cx="481.2" cy="502.17" r="2.2" fill="#bdbdbd"/>
<circle cx="485" cy="502.17" r="2.2" fill="#bdbdbd"/>
<circle cx="492" cy="502.17" r="2.2" fill="#bdbdbd"/>
<circle cx="500" cy="502.17" r="2.2" fill="#bdbdbd"/>
<circle cx="502" cy="502.17" r="2.2" fill="#bdbdbd"/>
<circle cx="505.6" cy="502.17" r="2.2" fill="#bdbdbd"/>
<circle cx="510" cy="502.17" r="2.2" fill="#bdbdbd"/>
<circle cx="513" cy="502.17" r="2.2" fill="#bdbdbd"/>
<circle cx="516" cy="502.17" r="2.2" fill="#bdbdbd"/>
<circle cx="520.3" cy="502.17" r="2.2" fill="#bdbdbd"/>
<circle cx="528.2" cy="502.17" r="2.2" fill="#bdbdbd"/>
<circle cx="532.8" cy="502.17" r="2.2" fill="#bdbdbd"/>
<circle cx="540.2" cy="502.17" r="2.2" fill="#bdbdbd"/>
<circle cx="545.2" cy="502.17" r="2.2" fill="#bdbdbd"/>
<circle cx="552" cy="502.17" r="2.2" fill="#bdbdbd"/>
<rect x="479.5" y="495.37" width="31.00" height="13.60" fill="none" stroke="#666" stroke-width="1"/>
<line x1="495.5" y1="495.37" x2="495.5" y2="508.97" stroke="#444" stroke-width="1"/>
<line x1="432.5" y1="498.37" x2="432.5" y2="505.97" stroke="#333" stroke-width="1.1"/>
<line x1="617.5" y1="498.37" x2="617.5" y2="505.97" stroke="#333" stroke-width="1.1"/>
<line x1="307" y1="494.97" x2="307" y2="509.67" stroke="#f59aa1" stroke-opacity="0.85" stroke-width="1.3"/>
<circle cx="488" cy="502.17" r="2.4" fill="#0d5f7c"/>
<circle cx="496.6" cy="502.17" r="2.4" fill="#0d5f7c"/>
<rect x="480.1" y="524.48" width="42.50" height="13.60" fill="#fff" stroke="none"/>
<line x1="491.5" y1="523.78" x2="491.5" y2="538.78" stroke="#efefef" stroke-width="1"/>
<line x1="358.1" y1="531.28" x2="480.1" y2="531.28" stroke="#666" stroke-width="1.2"/>
<line x1="522.6" y1="531.28" x2="589.7" y2="531.28" stroke="#666" stroke-width="1.2"/>
<circle cx="358.1" cy="531.28" r="2.2" fill="#bdbdbd"/>
<circle cx="589.7" cy="531.28" r="2.2" fill="#bdbdbd"/>
<circle cx="375" cy="531.28" r="2.2" fill="#bdbdbd"/>
<circle cx="420.9" cy="531.28" r="2.2" fill="#bdbdbd"/>
<circle cx="432.7" cy="531.28" r="2.2" fill="#bdbdbd"/>
<circle cx="463.2" cy="531.28" r="2.2" fill="#bdbdbd"/>
<circle cx="466.6" cy="531.28" r="2.2" fill="#bdbdbd"/>
<circle cx="474.9" cy="531.28" r="2.2" fill="#bdbdbd"/>
<circle cx="481.2" cy="531.28" r="2.2" fill="#bdbdbd"/>
<circle cx="484.6" cy="531.28" r="2.2" fill="#bdbdbd"/>
<circle cx="492.5" cy="531.28" r="2.2" fill="#bdbdbd"/>
<circle cx="496" cy="531.28" r="2.2" fill="#bdbdbd"/>
<circle cx="500" cy="531.28" r="2.2" fill="#bdbdbd"/>
<circle cx="503" cy="531.28" r="2.2" fill="#bdbdbd"/>
<circle cx="506" cy="531.28" r="2.2" fill="#bdbdbd"/>
<circle cx="509" cy="531.28" r="2.2" fill="#bdbdbd"/>
<circle cx="515.8" cy="531.28" r="2.2" fill="#bdbdbd"/>
<circle cx="519" cy="531.28" r="2.2" fill="#bdbdbd"/>
<circle cx="522" cy="531.28" r="2.2" fill="#bdbdbd"/>
<circle cx="525" cy="531.28" r="2.2" fill="#bdbdbd"/>
<circle cx="528" cy="531.28" r="2.2" fill="#bdbdbd"/>
<circle cx="532.8" cy="531.28" r="2.2" fill="#bdbdbd"/>
<circle cx="540.7" cy="531.28" r="2.2" fill="#bdbdbd"/>
<circle cx="546.3" cy="531.28" r="2.2" fill="#bdbdbd"/>
<circle cx="548.6" cy="531.28" r="2.2" fill="#bdbdbd"/>
<rect x="480.5" y="524.48" width="42.00" height="13.60" fill="none" stroke="#666" stroke-width="1"/>
<line x1="505.5" y1="524.48" x2="505.5" y2="538.08" stroke="#444" stroke-width="1"/>
<line x1="358.5" y1="527.48" x2="358.5" y2="535.08" stroke="#333" stroke-width="1.1"/>
<line x1="589.5" y1="527.48" x2="589.5" y2="535.08" stroke="#333" stroke-width="1.1"/>
<line x1="307" y1="524.08" x2="307" y2="538.78" stroke="#f59aa1" stroke-opacity="0.85" stroke-width="1.3"/>
<circle cx="450" cy="531.28" r="2.4" fill="#0d5f7c"/>
<rect x="485.4" y="553.59" width="24.20" height="13.60" fill="#fff" stroke="none"/>
<line x1="491.5" y1="552.89" x2="491.5" y2="567.89" stroke="#efefef" stroke-width="1"/>
<line x1="445.6" y1="560.39" x2="485.4" y2="560.39" stroke="#666" stroke-width="1.2"/>
<line x1="509.6" y1="560.39" x2="537.2" y2="560.39" stroke="#666" stroke-width="1.2"/>
<circle cx="445.6" cy="560.39" r="2.2" fill="#bdbdbd"/>
<circle cx="537.2" cy="560.39" r="2.2" fill="#bdbdbd"/>
<circle cx="450.8" cy="560.39" r="2.2" fill="#bdbdbd"/>
<circle cx="464.4" cy="560.39" r="2.2" fill="#bdbdbd"/>
<circle cx="468.9" cy="560.39" r="2.2" fill="#bdbdbd"/>
<circle cx="475.7" cy="560.39" r="2.2" fill="#bdbdbd"/>
<circle cx="478" cy="560.39" r="2.2" fill="#bdbdbd"/>
<circle cx="480.2" cy="560.39" r="2.2" fill="#bdbdbd"/>
<circle cx="487" cy="560.39" r="2.2" fill="#bdbdbd"/>
<circle cx="490" cy="560.39" r="2.2" fill="#bdbdbd"/>
<circle cx="492.5" cy="560.39" r="2.2" fill="#bdbdbd"/>
<circle cx="494.9" cy="560.39" r="2.2" fill="#bdbdbd"/>
<circle cx="504" cy="560.39" r="2.2" fill="#bdbdbd"/>
<circle cx="506" cy="560.39" r="2.2" fill="#bdbdbd"/>
<circle cx="508.5" cy="560.39" r="2.2" fill="#bdbdbd"/>
<circle cx="513" cy="560.39" r="2.2" fill="#bdbdbd"/>
<circle cx="517.5" cy="560.39" r="2.2" fill="#bdbdbd"/>
<circle cx="523.2" cy="560.39" r="2.2" fill="#bdbdbd"/>
<circle cx="526.6" cy="560.39" r="2.2" fill="#bdbdbd"/>
<circle cx="531" cy="560.39" r="2.2" fill="#bdbdbd"/>
<rect x="485.5" y="553.59" width="24.00" height="13.60" fill="none" stroke="#666" stroke-width="1"/>
<line x1="505.5" y1="553.59" x2="505.5" y2="567.19" stroke="#444" stroke-width="1"/>
<line x1="445.5" y1="556.59" x2="445.5" y2="564.19" stroke="#333" stroke-width="1.1"/>
<line x1="537.5" y1="556.59" x2="537.5" y2="564.19" stroke="#333" stroke-width="1.1"/>
<line x1="307" y1="553.19" x2="307" y2="567.89" stroke="#f59aa1" stroke-opacity="0.85" stroke-width="1.3"/>
<rect x="483.2" y="582.70" width="37.70" height="13.60" fill="#fff" stroke="none"/>
<line x1="491.5" y1="582.00" x2="491.5" y2="597.00" stroke="#efefef" stroke-width="1"/>
<line x1="461.0" y1="589.50" x2="483.2" y2="589.50" stroke="#666" stroke-width="1.2"/>
<line x1="520.9" y1="589.50" x2="609.4" y2="589.50" stroke="#666" stroke-width="1.2"/>
<circle cx="461.0" cy="589.50" r="2.2" fill="#bdbdbd"/>
<circle cx="609.4" cy="589.50" r="2.2" fill="#bdbdbd"/>
<circle cx="473.9" cy="589.50" r="2.2" fill="#bdbdbd"/>
<circle cx="480.2" cy="589.50" r="2.2" fill="#bdbdbd"/>
<circle cx="482.5" cy="589.50" r="2.2" fill="#bdbdbd"/>
<circle cx="484.7" cy="589.50" r="2.2" fill="#bdbdbd"/>
<circle cx="490.4" cy="589.50" r="2.2" fill="#bdbdbd"/>
<circle cx="496" cy="589.50" r="2.2" fill="#bdbdbd"/>
<circle cx="501" cy="589.50" r="2.2" fill="#bdbdbd"/>
<circle cx="513.7" cy="589.50" r="2.2" fill="#bdbdbd"/>
<circle cx="520.5" cy="589.50" r="2.2" fill="#bdbdbd"/>
<circle cx="528.8" cy="589.50" r="2.2" fill="#bdbdbd"/>
<circle cx="549.2" cy="589.50" r="2.2" fill="#bdbdbd"/>
<rect x="483.5" y="582.70" width="37.00" height="13.60" fill="none" stroke="#666" stroke-width="1"/>
<line x1="495.5" y1="582.70" x2="495.5" y2="596.30" stroke="#444" stroke-width="1"/>
<line x1="461.5" y1="585.70" x2="461.5" y2="593.30" stroke="#333" stroke-width="1.1"/>
<line x1="609.5" y1="585.70" x2="609.5" y2="593.30" stroke="#333" stroke-width="1.1"/>
<line x1="307" y1="582.30" x2="307" y2="597.00" stroke="#f59aa1" stroke-opacity="0.85" stroke-width="1.3"/>
<rect x="453.6" y="611.81" width="39.10" height="13.60" fill="#fff" stroke="none"/>
<line x1="491.5" y1="611.11" x2="491.5" y2="626.11" stroke="#efefef" stroke-width="1"/>
<line x1="427.6" y1="618.61" x2="453.6" y2="618.61" stroke="#666" stroke-width="1.2"/>
<line x1="492.7" y1="618.61" x2="503.5" y2="618.61" stroke="#666" stroke-width="1.2"/>
<circle cx="427.6" cy="618.61" r="2.2" fill="#bdbdbd"/>
<circle cx="503.5" cy="618.61" r="2.2" fill="#bdbdbd"/>
<circle cx="433.4" cy="618.61" r="2.2" fill="#bdbdbd"/>
<circle cx="453.8" cy="618.61" r="2.2" fill="#bdbdbd"/>
<circle cx="471.2" cy="618.61" r="2.2" fill="#bdbdbd"/>
<circle cx="478" cy="618.61" r="2.2" fill="#bdbdbd"/>
<circle cx="484.3" cy="618.61" r="2.2" fill="#bdbdbd"/>
<circle cx="492.2" cy="618.61" r="2.2" fill="#bdbdbd"/>
<rect x="453.5" y="611.81" width="39.00" height="13.60" fill="none" stroke="#666" stroke-width="1"/>
<line x1="478.5" y1="611.81" x2="478.5" y2="625.41" stroke="#444" stroke-width="1"/>
<line x1="427.5" y1="614.81" x2="427.5" y2="622.41" stroke="#333" stroke-width="1.1"/>
<line x1="503.5" y1="614.81" x2="503.5" y2="622.41" stroke="#333" stroke-width="1.1"/>
<line x1="307" y1="611.41" x2="307" y2="626.11" stroke="#f59aa1" stroke-opacity="0.85" stroke-width="1.3"/>
<rect x="476.7" y="640.92" width="38.90" height="13.60" fill="#fff" stroke="none"/>
<line x1="491.5" y1="640.22" x2="491.5" y2="655.22" stroke="#efefef" stroke-width="1"/>
<line x1="387.5" y1="647.72" x2="476.7" y2="647.72" stroke="#666" stroke-width="1.2"/>
<line x1="515.6" y1="647.72" x2="570.7" y2="647.72" stroke="#666" stroke-width="1.2"/>
<circle cx="387.5" cy="647.72" r="2.2" fill="#bdbdbd"/>
<circle cx="570.7" cy="647.72" r="2.2" fill="#bdbdbd"/>
<circle cx="422.3" cy="647.72" r="2.2" fill="#bdbdbd"/>
<circle cx="431.5" cy="647.72" r="2.2" fill="#bdbdbd"/>
<circle cx="447.1" cy="647.72" r="2.2" fill="#bdbdbd"/>
<circle cx="456.8" cy="647.72" r="2.2" fill="#bdbdbd"/>
<circle cx="460" cy="647.72" r="2.2" fill="#bdbdbd"/>
<circle cx="463" cy="647.72" r="2.2" fill="#bdbdbd"/>
<circle cx="466" cy="647.72" r="2.2" fill="#bdbdbd"/>
<circle cx="469" cy="647.72" r="2.2" fill="#bdbdbd"/>
<circle cx="472" cy="647.72" r="2.2" fill="#bdbdbd"/>
<circle cx="474.9" cy="647.72" r="2.2" fill="#bdbdbd"/>
<circle cx="482.8" cy="647.72" r="2.2" fill="#bdbdbd"/>
<circle cx="485" cy="647.72" r="2.2" fill="#bdbdbd"/>
<circle cx="487.3" cy="647.72" r="2.2" fill="#bdbdbd"/>
<circle cx="498.6" cy="647.72" r="2.2" fill="#bdbdbd"/>
<circle cx="502" cy="647.72" r="2.2" fill="#bdbdbd"/>
<circle cx="513.3" cy="647.72" r="2.2" fill="#bdbdbd"/>
<circle cx="516.7" cy="647.72" r="2.2" fill="#bdbdbd"/>
<circle cx="526.8" cy="647.72" r="2.2" fill="#bdbdbd"/>
<circle cx="549.3" cy="647.72" r="2.2" fill="#bdbdbd"/>
<circle cx="558.8" cy="647.72" r="2.2" fill="#bdbdbd"/>
<rect x="476.5" y="640.92" width="39.00" height="13.60" fill="none" stroke="#666" stroke-width="1"/>
<line x1="495.5" y1="640.92" x2="495.5" y2="654.52" stroke="#444" stroke-width="1"/>
<line x1="387.5" y1="643.92" x2="387.5" y2="651.52" stroke="#333" stroke-width="1.1"/>
<line x1="570.5" y1="643.92" x2="570.5" y2="651.52" stroke="#333" stroke-width="1.1"/>
<line x1="307" y1="640.52" x2="307" y2="655.22" stroke="#f59aa1" stroke-opacity="0.85" stroke-width="1.3"/>
<circle cx="490.7" cy="647.72" r="2.4" fill="#0d5f7c"/>
<circle cx="493" cy="647.72" r="2.4" fill="#0d5f7c"/>
<circle cx="505" cy="647.72" r="2.4" fill="#0d5f7c"/>
<circle cx="520.5" cy="647.72" r="2.4" fill="#0d5f7c"/>
<circle cx="532.4" cy="647.72" r="2.4" fill="#0d5f7c"/>
<circle cx="553.8" cy="647.72" r="2.4" fill="#0d5f7c"/>
<rect x="470.4" y="670.03" width="38.40" height="13.60" fill="#fff" stroke="none"/>
<line x1="491.5" y1="669.33" x2="491.5" y2="684.33" stroke="#efefef" stroke-width="1"/>
<line x1="404.4" y1="676.83" x2="470.4" y2="676.83" stroke="#666" stroke-width="1.2"/>
<line x1="508.8" y1="676.83" x2="563.3" y2="676.83" stroke="#666" stroke-width="1.2"/>
<circle cx="404.4" cy="676.83" r="2.2" fill="#bdbdbd"/>
<circle cx="563.3" cy="676.83" r="2.2" fill="#bdbdbd"/>
<circle cx="411.6" cy="676.83" r="2.2" fill="#bdbdbd"/>
<circle cx="414" cy="676.83" r="2.2" fill="#bdbdbd"/>
<circle cx="416.2" cy="676.83" r="2.2" fill="#bdbdbd"/>
<circle cx="441" cy="676.83" r="2.2" fill="#bdbdbd"/>
<circle cx="453.4" cy="676.83" r="2.2" fill="#bdbdbd"/>
<circle cx="456.8" cy="676.83" r="2.2" fill="#bdbdbd"/>
<circle cx="461.4" cy="676.83" r="2.2" fill="#bdbdbd"/>
<circle cx="467" cy="676.83" r="2.2" fill="#bdbdbd"/>
<circle cx="473.8" cy="676.83" r="2.2" fill="#bdbdbd"/>
<circle cx="485" cy="676.83" r="2.2" fill="#bdbdbd"/>
<circle cx="488" cy="676.83" r="2.2" fill="#bdbdbd"/>
<circle cx="490" cy="676.83" r="2.2" fill="#bdbdbd"/>
<circle cx="493" cy="676.83" r="2.2" fill="#bdbdbd"/>
<circle cx="502" cy="676.83" r="2.2" fill="#bdbdbd"/>
<circle cx="505" cy="676.83" r="2.2" fill="#bdbdbd"/>
<circle cx="508" cy="676.83" r="2.2" fill="#bdbdbd"/>
<circle cx="511" cy="676.83" r="2.2" fill="#bdbdbd"/>
<circle cx="515.6" cy="676.83" r="2.2" fill="#bdbdbd"/>
<circle cx="521.9" cy="676.83" r="2.2" fill="#bdbdbd"/>
<circle cx="533.4" cy="676.83" r="2.2" fill="#bdbdbd"/>
<rect x="470.5" y="670.03" width="38.00" height="13.60" fill="none" stroke="#666" stroke-width="1"/>
<line x1="490.5" y1="670.03" x2="490.5" y2="683.63" stroke="#444" stroke-width="1"/>
<line x1="404.5" y1="673.03" x2="404.5" y2="680.63" stroke="#333" stroke-width="1.1"/>
<line x1="563.5" y1="673.03" x2="563.5" y2="680.63" stroke="#333" stroke-width="1.1"/>
<line x1="307" y1="669.63" x2="307" y2="684.33" stroke="#f59aa1" stroke-opacity="0.85" stroke-width="1.3"/>
<circle cx="479.4" cy="676.83" r="2.4" fill="#0d5f7c"/>
<rect x="477.6" y="699.14" width="11.30" height="13.60" fill="#fff" stroke="none"/>
<line x1="491.5" y1="698.44" x2="491.5" y2="713.44" stroke="#efefef" stroke-width="1"/>
<circle cx="477.6" cy="705.94" r="2.2" fill="#bdbdbd"/>
<circle cx="488.9" cy="705.94" r="2.2" fill="#bdbdbd"/>
<rect x="477.5" y="699.14" width="11.00" height="13.60" fill="none" stroke="#666" stroke-width="1"/>
<line x1="482.8" y1="699.14" x2="482.8" y2="712.74" stroke="#888" stroke-width="1.6"/>
<line x1="307" y1="698.74" x2="307" y2="713.44" stroke="#f59aa1" stroke-opacity="0.85" stroke-width="1.3"/>
<rect x="459.5" y="728.25" width="47.70" height="13.60" fill="#fff" stroke="none"/>
<line x1="491.5" y1="727.55" x2="491.5" y2="742.55" stroke="#efefef" stroke-width="1"/>
<line x1="392.4" y1="735.05" x2="459.5" y2="735.05" stroke="#666" stroke-width="1.2"/>
<line x1="507.2" y1="735.05" x2="517.4" y2="735.05" stroke="#666" stroke-width="1.2"/>
<circle cx="392.4" cy="735.05" r="2.2" fill="#bdbdbd"/>
<circle cx="517.4" cy="735.05" r="2.2" fill="#bdbdbd"/>
<circle cx="447.1" cy="735.05" r="2.2" fill="#bdbdbd"/>
<circle cx="456.8" cy="735.05" r="2.2" fill="#bdbdbd"/>
<circle cx="467" cy="735.05" r="2.2" fill="#bdbdbd"/>
<circle cx="469.3" cy="735.05" r="2.2" fill="#bdbdbd"/>
<circle cx="481" cy="735.05" r="2.2" fill="#bdbdbd"/>
<circle cx="495.9" cy="735.05" r="2.2" fill="#bdbdbd"/>
<circle cx="509.9" cy="735.05" r="2.2" fill="#bdbdbd"/>
<circle cx="514.5" cy="735.05" r="2.2" fill="#bdbdbd"/>
<rect x="459.5" y="728.25" width="48.00" height="13.60" fill="none" stroke="#666" stroke-width="1"/>
<line x1="481.5" y1="728.25" x2="481.5" y2="741.85" stroke="#444" stroke-width="1"/>
<line x1="392.5" y1="731.25" x2="392.5" y2="738.85" stroke="#333" stroke-width="1.1"/>
<line x1="517.5" y1="731.25" x2="517.5" y2="738.85" stroke="#333" stroke-width="1.1"/>
<line x1="307" y1="727.85" x2="307" y2="742.55" stroke="#f59aa1" stroke-opacity="0.85" stroke-width="1.3"/>
<circle cx="489.6" cy="735.05" r="2.4" fill="#0d5f7c"/>
<rect x="486.2" y="757.36" width="19.20" height="13.60" fill="#fff" stroke="none"/>
<line x1="491.5" y1="756.66" x2="491.5" y2="771.66" stroke="#efefef" stroke-width="1"/>
<line x1="444.4" y1="764.16" x2="486.2" y2="764.16" stroke="#666" stroke-width="1.2"/>
<line x1="505.4" y1="764.16" x2="566.7" y2="764.16" stroke="#666" stroke-width="1.2"/>
<circle cx="444.4" cy="764.16" r="2.2" fill="#bdbdbd"/>
<circle cx="566.7" cy="764.16" r="2.2" fill="#bdbdbd"/>
<circle cx="450" cy="764.16" r="2.2" fill="#bdbdbd"/>
<circle cx="471.5" cy="764.16" r="2.2" fill="#bdbdbd"/>
<circle cx="473.5" cy="764.16" r="2.2" fill="#bdbdbd"/>
<circle cx="476" cy="764.16" r="2.2" fill="#bdbdbd"/>
<circle cx="484" cy="764.16" r="2.2" fill="#bdbdbd"/>
<circle cx="490.7" cy="764.16" r="2.2" fill="#bdbdbd"/>
<circle cx="510.4" cy="764.16" r="2.2" fill="#bdbdbd"/>
<circle cx="529.3" cy="764.16" r="2.2" fill="#bdbdbd"/>
<circle cx="536" cy="764.16" r="2.2" fill="#bdbdbd"/>
<circle cx="540.7" cy="764.16" r="2.2" fill="#bdbdbd"/>
<rect x="486.5" y="757.36" width="19.00" height="13.60" fill="none" stroke="#666" stroke-width="1"/>
<line x1="495.5" y1="757.36" x2="495.5" y2="770.96" stroke="#444" stroke-width="1"/>
<line x1="444.5" y1="760.36" x2="444.5" y2="767.96" stroke="#333" stroke-width="1.1"/>
<line x1="566.5" y1="760.36" x2="566.5" y2="767.96" stroke="#333" stroke-width="1.1"/>
<line x1="307" y1="756.96" x2="307" y2="771.66" stroke="#f59aa1" stroke-opacity="0.85" stroke-width="1.3"/>
<circle cx="493" cy="764.16" r="2.4" fill="#0d5f7c"/>
<circle cx="497" cy="764.16" r="2.4" fill="#0d5f7c"/>
<circle cx="503.6" cy="764.16" r="2.7" fill="#f5850f"/>
</svg>
<div class="lbl" style="top:0.60px">Ampulla of Vater (4)</div>
<div class="lbl" style="top:29.71px">Biliary Tract (34)</div>
<div class="lbl" style="top:58.82px">Bladder/Urinary Tract (32)</div>
<div class="lbl" style="top:87.93px">Bone (37)</div>
<div class="lbl" style="top:117.04px">Bowel (58)</div>
<div class="lbl" style="top:146.15px">Breast (48)</div>
<div class="lbl" style="top:175.26px">CNS/Brain (91)</div>
<div class="lbl" style="top:204.37px">Cervix (18)</div>
<div class="lbl" style="top:233.48px">Esophagus/Stomach (65)</div>
<div class="lbl" style="top:262.59px">Eye (14)</div>
<div class="lbl" style="top:291.70px">Head &amp; Neck (71)</div>
<div class="lbl" style="top:320.81px">Kidney (32)</div>
<div class="lbl" style="top:349.92px">Liver (24)</div>
<div class="lbl" style="top:379.03px">Lung (120)</div>
<div class="lbl b" style="top:408.14px">LYMPHOID (79)</div>
<div class="lbl b" style="top:437.25px">MYELOID (37)</div>
<div class="lbl" style="top:466.36px">Other (1)</div>
<div class="lbl" style="top:495.47px">Ovary/Fallopian Tube (58)</div>
<div class="lbl" style="top:524.58px">Pancreas (47)</div>
<div class="lbl" style="top:553.69px">Peripheral NS (42)</div>
<div class="lbl" style="top:582.80px">Pleura (19)</div>
<div class="lbl" style="top:611.91px">Prostate (10)</div>
<div class="lbl" style="top:641.02px">Skin (71)</div>
<div class="lbl" style="top:670.13px">Soft Tissue (36)</div>
<div class="lbl" style="top:699.24px">Testis (2)</div>
<div class="lbl" style="top:728.35px">Thyroid (11)</div>
<div class="lbl" style="top:757.46px">Uterus (33)</div>
<div class="tick" style="left:82.3px">- 2</div>
<div class="tick" style="left:173.4px">- 1.5</div>
<div class="tick" style="left:265.6px">- 1</div>
<div class="tick" style="left:358.6px">- 0.5</div>
<div class="tick" style="left:452.5px">0</div>
<div class="tick" style="left:541.0px">- 0.5</div>
<div class="tick" style="left:636.4px">1</div>
<div class="title" style="left:-4.3px">RUNX1 Knockout Effect (Chronos)</div>
</body></html>
